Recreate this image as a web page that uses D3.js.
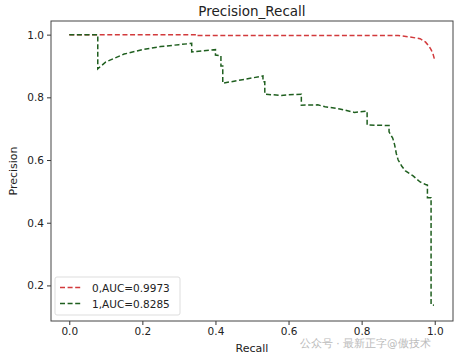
<!DOCTYPE html>
<html>
<head>
<meta charset="utf-8">
<script src="https://cdn.jsdelivr.net/npm/d3@7"></script>
<style>
  body { margin: 0; background: #fff; }
  text { font-family: "DejaVu Sans", sans-serif; fill: #222; }
</style>
</head>
<body>
<div id="chart-container"></div>
<script>
// PR curves for two classes as [recall, precision]
const class0 = [
  [0.0, 1.0], [0.35, 1.0], [0.35, 0.997], [0.9, 0.997], [0.93, 0.993],
  [0.96, 0.987], [0.975, 0.976], [0.985, 0.962], [0.99, 0.952],
  [0.995, 0.94], [1.0, 0.918]
];
const class1 = [
  [0.0, 1.0], [0.078, 1.0], [0.078, 0.891], [0.1, 0.913], [0.15, 0.938],
  [0.2, 0.952], [0.25, 0.962], [0.3, 0.968], [0.335, 0.972], [0.335, 0.945],
  [0.4, 0.952], [0.4, 0.935], [0.415, 0.933], [0.415, 0.9], [0.42, 0.9],
  [0.42, 0.845], [0.53, 0.868], [0.53, 0.85], [0.535, 0.85], [0.535, 0.81],
  [0.58, 0.806], [0.6, 0.808], [0.635, 0.81], [0.635, 0.775], [0.68, 0.776],
  [0.7, 0.77], [0.74, 0.763], [0.78, 0.752], [0.815, 0.756], [0.815, 0.712],
  [0.875, 0.71], [0.875, 0.69], [0.885, 0.67], [0.89, 0.65], [0.895, 0.62],
  [0.9, 0.6], [0.91, 0.58], [0.92, 0.565], [0.94, 0.55], [0.96, 0.53],
  [0.975, 0.522], [0.98, 0.52], [0.98, 0.48], [0.99, 0.48], [0.99, 0.138],
  [0.998, 0.137]
];
const seriesNames = ["0,AUC=0.9973", "1,AUC=0.8285"];
const seriesColors = ["#d23a3c", "#1f5f1f"];
const xTicks = [0.0, 0.2, 0.4, 0.6, 0.8, 1.0];
const yTicks = [0.2, 0.4, 0.6, 0.8, 1.0];

const W = 474, H = 361;
const frame = { left: 51, right: 453, top: 21, bottom: 321 };

const xScale = d3.scaleLinear().domain([-0.05, 1.05]).range([frame.left, frame.right]);
const yScale = d3.scaleLinear().domain([0.0865, 1.0435]).range([frame.bottom, frame.top]);

const svg = d3.select("#chart-container")
  .append("svg")
  .attr("width", W)
  .attr("height", H);

// title
svg.append("text")
  .attr("x", (frame.left + frame.right) / 2)
  .attr("y", 16)
  .attr("text-anchor", "middle")
  .attr("font-size", "13.5px")
  .text("Precision_Recall");

// axes
const xAxis = d3.axisBottom(xScale).tickValues(xTicks).tickFormat(d3.format(".1f")).tickSize(4).tickPadding(3);
const yAxis = d3.axisLeft(yScale).tickValues(yTicks).tickFormat(d3.format(".1f")).tickSize(4).tickPadding(3);

svg.append("g")
  .attr("transform", "translate(0," + frame.bottom + ")")
  .call(xAxis)
  .call(g => g.select(".domain").remove())
  .call(g => g.selectAll("text").attr("font-size", "10.5px").attr("fill", "#222"))
  .call(g => g.selectAll("line").attr("stroke", "#333"));

svg.append("g")
  .attr("transform", "translate(" + frame.left + ",0)")
  .call(yAxis)
  .call(g => g.select(".domain").remove())
  .call(g => g.selectAll("text").attr("font-size", "10.5px").attr("fill", "#222"))
  .call(g => g.selectAll("line").attr("stroke", "#333"));

svg.append("text")
  .attr("x", (frame.left + frame.right) / 2)
  .attr("y", 352)
  .attr("text-anchor", "middle")
  .attr("font-size", "11px")
  .text("Recall");

svg.append("text")
  .attr("transform", "translate(17," + (frame.top + frame.bottom) / 2 + ")rotate(-90)")
  .attr("text-anchor", "middle")
  .attr("font-size", "11px")
  .text("Precision");

// curves
const line = d3.line().x(d => xScale(d[0])).y(d => yScale(d[1]));

svg.append("g")
  .selectAll("path")
  .data([class0, class1])
  .enter()
  .append("path")
  .attr("d", line)
  .attr("fill", "none")
  .attr("stroke", (d, i) => seriesColors[i])
  .attr("stroke-width", 1.5)
  .attr("stroke-dasharray", "5,2.6");

// frame
svg.append("rect")
  .attr("x", frame.left)
  .attr("y", frame.top)
  .attr("width", frame.right - frame.left)
  .attr("height", frame.bottom - frame.top)
  .attr("fill", "none")
  .attr("stroke", "#444")
  .attr("stroke-width", 1);

// legend
const legend = svg.append("g").attr("transform", "translate(55,277)");
legend.append("rect")
  .attr("width", 125)
  .attr("height", 38)
  .attr("rx", 2)
  .attr("fill", "#fff")
  .attr("stroke", "#ddd");

const legendItems = legend.selectAll(".legend-item")
  .data(seriesNames)
  .enter()
  .append("g")
  .attr("class", "legend-item")
  .attr("transform", (d, i) => "translate(0," + (10.5 + i * 16) + ")");

legendItems.append("line")
  .attr("x1", 5).attr("x2", 27)
  .attr("stroke", (d, i) => seriesColors[i])
  .attr("stroke-width", 1.5)
  .attr("stroke-dasharray", "5,2.6");

legendItems.append("text")
  .attr("x", 37)
  .attr("y", 4)
  .attr("font-size", "10.5px")
  .text(d => d);

// watermark
svg.append("text")
  .attr("x", 300)
  .attr("y", 347)
  .attr("font-family", "Noto Sans CJK SC, sans-serif")
  .attr("font-size", "10.5px")
  .style("fill", "#bbb")
  .text("公众号 · 最新正字@傲技术");
</script>
</body>
</html>
